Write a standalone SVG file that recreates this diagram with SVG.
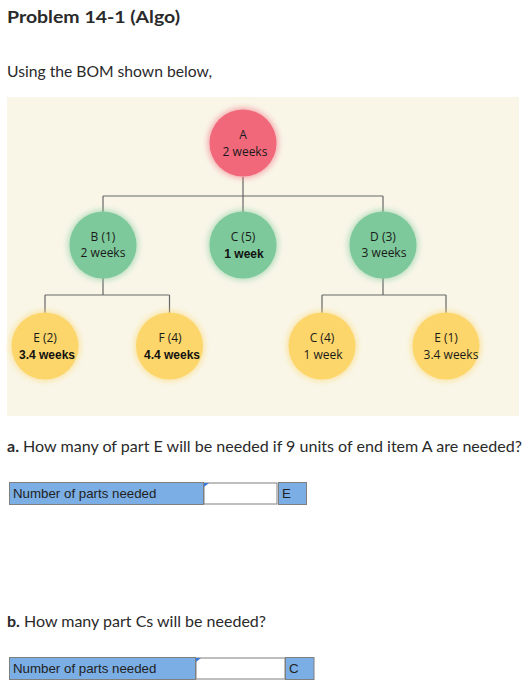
<svg xmlns="http://www.w3.org/2000/svg" width="532" height="693" viewBox="0 0 532 693">
<defs>
<filter id="glow" x="-50%" y="-50%" width="200%" height="200%"><feGaussianBlur stdDeviation="3"/></filter>
<style>
.t{font-family:Lato,"Open Sans","Liberation Sans",sans-serif;fill:#2a2a2a}
.n{font-family:"Open Sans","Liberation Sans",sans-serif;font-size:12px;fill:#1a1a1a;text-anchor:middle}
.nb{font-family:"Liberation Sans",Arial,sans-serif;font-size:12px;font-weight:bold;fill:#111;text-anchor:middle}
.ln{fill:none;stroke:#666;stroke-width:1.2}
.pk{fill:#f0687a}.gr{fill:#7dc99b}.ye{fill:#fcd66a}
.lab{fill:#7aaee5;stroke:#7f7f7f;stroke-width:1}
.inp{fill:#fff;stroke:#7f7f7f;stroke-width:1}
.bx{font-family:"Liberation Sans",Arial,sans-serif;font-size:13.3px;fill:#222}
</style>
</defs>
<rect width="532" height="693" fill="#fff"/>
<text class="t" x="7" y="23" font-size="17" font-weight="bold" fill="#1a1a1a" textLength="173" lengthAdjust="spacingAndGlyphs">Problem 14-1 (Algo)</text>
<text class="t" x="7" y="77" font-size="15" textLength="205" lengthAdjust="spacingAndGlyphs">Using the BOM shown below,</text>
<rect x="7" y="97" width="512" height="319" fill="#f9f6e8"/>
<g id="connectors">
<path class="ln" d="M243 177V196M103 196H383M103 196V212M243 196V212M383 196V212"/>
<path class="ln" d="M103 278V295M45 295H169.5M45 295V313M169.5 295V313"/>
<path class="ln" d="M383 278V295M322 295H446M322 295V313M446 295V313"/>
</g>
<g id="A"><circle class="pk" cx="243" cy="143" r="35" filter="url(#glow)" opacity="0.6"/><circle class="pk" cx="243" cy="143" r="33.5"/><text class="n" x="243" y="139">A</text><text class="n" x="245" y="156">2 weeks</text></g>
<g id="B"><circle class="gr" cx="103" cy="245" r="35" filter="url(#glow)" opacity="0.6"/><circle class="gr" cx="103" cy="245" r="33.5"/><text class="n" x="103" y="241">B (1)</text><text class="n" x="103" y="257">2 weeks</text></g>
<g id="C5"><circle class="gr" cx="243" cy="245" r="35" filter="url(#glow)" opacity="0.6"/><circle class="gr" cx="243" cy="245" r="33.5"/><text class="n" x="243" y="241">C (5)</text><text class="nb" x="244" y="258" font-weight="normal">1 week</text></g>
<g id="D"><circle class="gr" cx="383" cy="245" r="35" filter="url(#glow)" opacity="0.6"/><circle class="gr" cx="383" cy="245" r="33.5"/><text class="n" x="383" y="241">D (3)</text><text class="n" x="384" y="257">3 weeks</text></g>
<g id="E2"><circle class="ye" cx="45" cy="346" r="35" filter="url(#glow)" opacity="0.6"/><circle class="ye" cx="45" cy="346" r="33.5"/><text class="n" x="45" y="342">E (2)</text><text class="nb" x="47" y="359" font-weight="normal">3.4 weeks</text></g>
<g id="F"><circle class="ye" cx="169.5" cy="346" r="35" filter="url(#glow)" opacity="0.6"/><circle class="ye" cx="169.5" cy="346" r="33.5"/><text class="n" x="170" y="342">F (4)</text><text class="nb" x="172" y="359" font-weight="normal">4.4 weeks</text></g>
<g id="C4"><circle class="ye" cx="322" cy="346" r="35" filter="url(#glow)" opacity="0.6"/><circle class="ye" cx="322" cy="346" r="33.5"/><text class="n" x="322" y="342">C (4)</text><text class="n" x="323" y="359">1 week</text></g>
<g id="E1"><circle class="ye" cx="446" cy="346" r="35" filter="url(#glow)" opacity="0.6"/><circle class="ye" cx="446" cy="346" r="33.5"/><text class="n" x="446" y="342">E (1)</text><text class="n" x="451" y="359">3.4 weeks</text></g>
<text class="t" x="7" y="452" font-size="15" textLength="515" lengthAdjust="spacingAndGlyphs"><tspan font-weight="bold">a.</tspan> How many of part E will be needed if 9 units of end item A are needed?</text>
<g id="answerA">
<rect class="lab" x="9.5" y="482.5" width="194" height="22"/>
<rect class="inp" x="204" y="483" width="73" height="21"/>
<rect class="lab" x="278.5" y="482.5" width="28" height="22"/>
<path d="M204 483h5l-5 4z" fill="#3a7ad8"/>
<text class="bx" x="13" y="498">Number of parts needed</text>
<text class="bx" x="282" y="498">E</text>
</g>
<text class="t" x="7" y="627" font-size="15" textLength="259" lengthAdjust="spacingAndGlyphs"><tspan font-weight="bold">b.</tspan> How many part Cs will be needed?</text>
<g id="answerB">
<rect class="lab" x="9.5" y="657.5" width="186" height="22"/>
<rect class="inp" x="196" y="658" width="89" height="21"/>
<rect class="lab" x="285.5" y="657.5" width="28.5" height="22"/>
<path d="M196 658h5l-5 4z" fill="#3a7ad8"/>
<text class="bx" x="13" y="673">Number of parts needed</text>
<text class="bx" x="289" y="673">C</text>
</g>
</svg>
